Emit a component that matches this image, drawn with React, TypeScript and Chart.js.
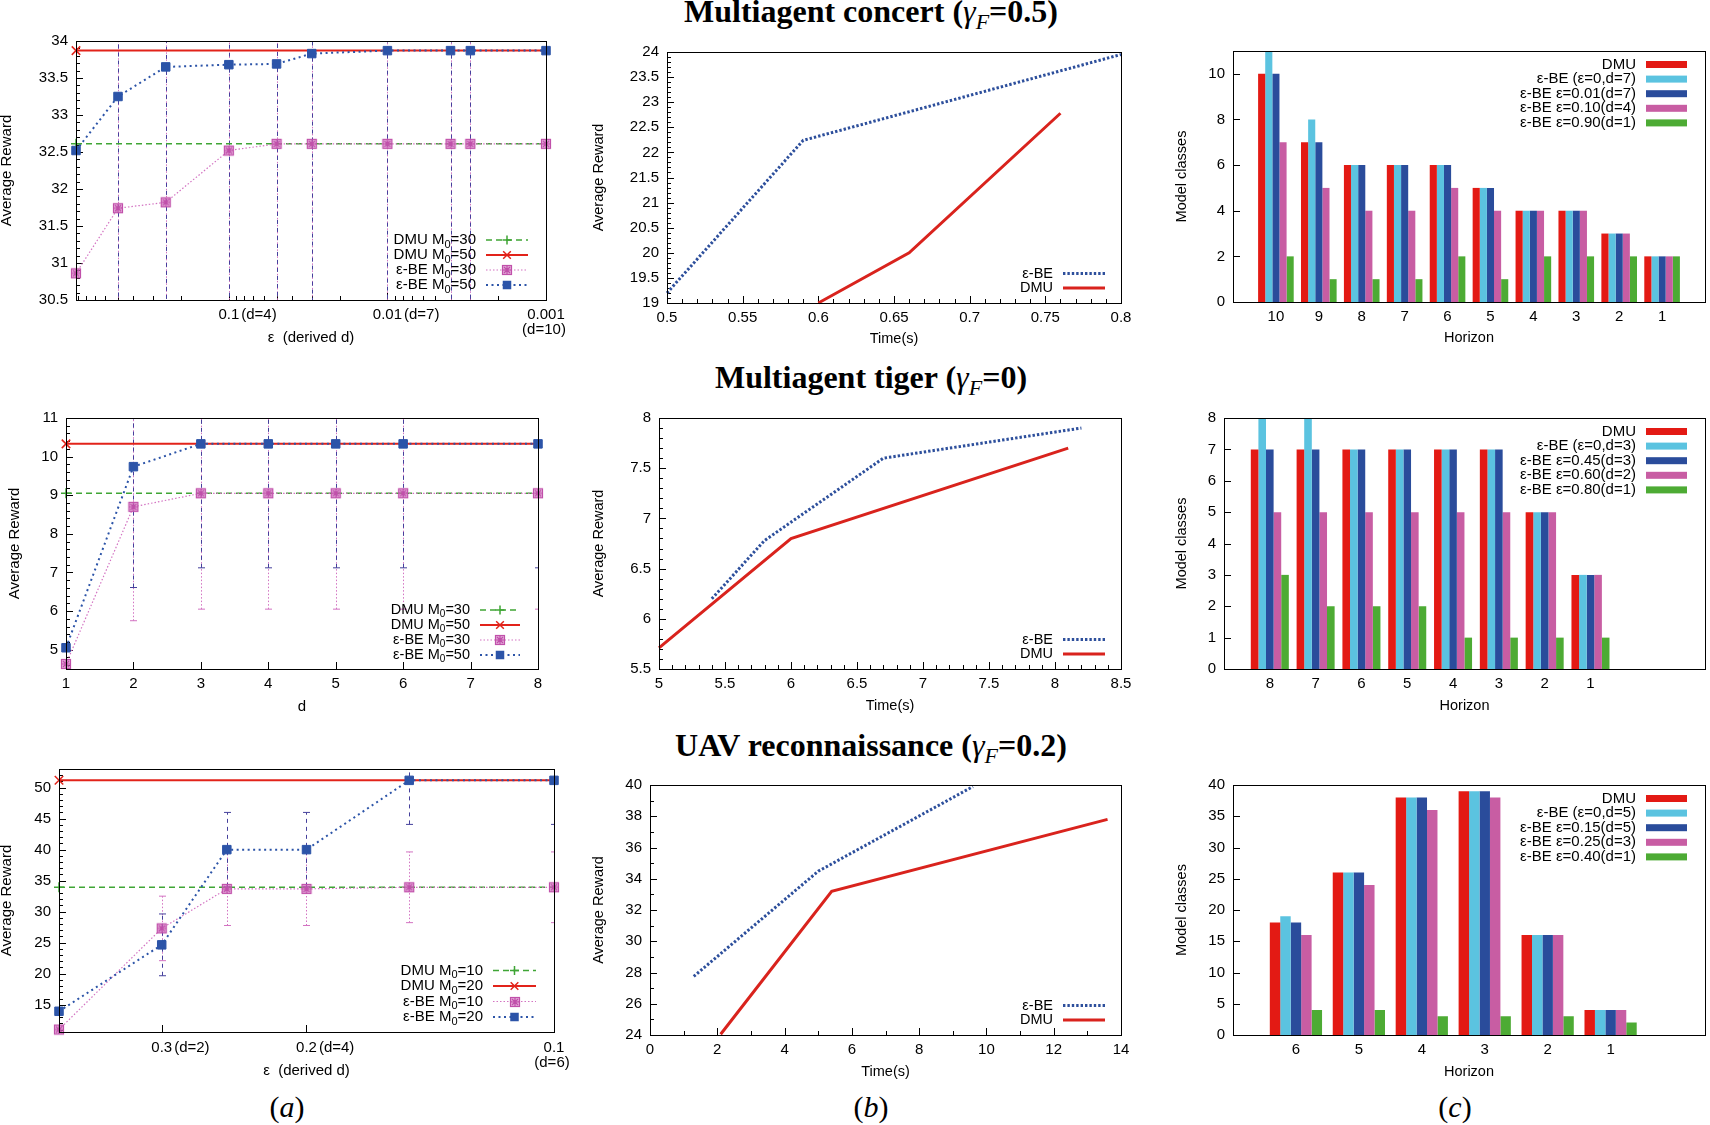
import React, { useEffect, useRef } from 'react';
import { Chart, registerables } from 'chart.js';

Chart.register(...registerables);

const FONT = '"Liberation Sans", Arial, Helvetica, sans-serif';
const SERIF = '"Liberation Serif", "Times New Roman", Times, serif';
Chart.defaults.font.family = FONT;
Chart.defaults.color = '#000';

// ================= Titles / captions =================
const rowTitles = ['Multiagent concert', 'Multiagent tiger', 'UAV reconnaissance'];
const rowGammaF = ['0.5', '0', '0.2'];
const columnCaptions = ['a', 'b', 'c'];

// ================= Row 1 : Multiagent concert =================
const epsA1 = [0.92, 0.5, 0.25, 0.1, 0.05, 0.03, 0.01, 0.004, 0.003, 0.001];
const beM30A1 = [30.86, 31.74, 31.82, 32.52, 32.61, 32.61, 32.61, 32.61, 32.61, 32.61];
const beM50A1 = [32.52, 33.25, 33.65, 33.68, 33.69, 33.83, 33.87, 33.87, 33.87, 33.87];
const beM30ErrA1 = [0, 4, 4, 4, 4, 4, 4, 4, 4, 4];
const beM50ErrA1 = [0, 4, 4, 4, 4, 4, 4, 4, 4, 4];
const dmuM30A1 = 32.61;
const dmuM50A1 = 33.87;
const yTicksA1 = [30.5, 31, 31.5, 32, 32.5, 33, 33.5, 34];
const xTicksA1 = [0.1, 0.01, 0.001];
const xTickDA1 = [4, 7, 10];
const legendA1 = ['DMU M_0=30', 'DMU M_0=50', 'ε-BE M_0=30', 'ε-BE M_0=50'];

const timeBeB1 = [0.5, 0.59, 0.8];
const rewBeB1 = [19.2, 22.24, 23.95];
const timeDmuB1 = [0.6, 0.66, 0.76];
const rewDmuB1 = [19.0, 20.0, 22.78];
const xTicksB1 = [0.5, 0.55, 0.6, 0.65, 0.7, 0.75, 0.8];
const yTicksB1 = [19, 19.5, 20, 20.5, 21, 21.5, 22, 22.5, 23, 23.5, 24];

const horizonsC1 = ['10', '9', '8', '7', '6', '5', '4', '3', '2', '1'];
const dmuC1 = [10, 7, 6, 6, 6, 5, 4, 4, 3, 2];
const be0C1 = [11, 8, 6, 6, 6, 5, 4, 4, 3, 2];
const be001C1 = [10, 7, 6, 6, 6, 5, 4, 4, 3, 2];
const be010C1 = [7, 5, 4, 4, 5, 4, 4, 4, 3, 2];
const be090C1 = [2, 1, 1, 1, 2, 1, 2, 2, 2, 2];
const legendC1 = ['DMU', 'ε-BE (ε=0,d=7)', 'ε-BE ε=0.01(d=7)', 'ε-BE ε=0.10(d=4)', 'ε-BE ε=0.90(d=1)'];
const yTicksC1 = [0, 2, 4, 6, 8, 10];

// ================= Row 2 : Multiagent tiger =================
const dA2 = [1, 2, 3, 4, 5, 6, 8];
const beM30A2 = [4.63, 8.7, 9.05, 9.05, 9.05, 9.05, 9.05];
const beM50A2 = [5.05, 9.74, 10.33, 10.33, 10.33, 10.33, 10.33];
const beM30ErrA2 = [0, 2.95, 3.0, 3.0, 3.0, 3.0, 3.0];
const beM50ErrA2 = [0, 3.13, 3.21, 3.21, 3.21, 3.21, 3.21];
const dmuM30A2 = 9.05;
const dmuM50A2 = 10.33;
const xTicksA2 = [1, 2, 3, 4, 5, 6, 7, 8];
const yTicksA2 = [5, 6, 7, 8, 9, 10, 11];
const legendA2 = ['DMU M_0=30', 'DMU M_0=50', 'ε-BE M_0=30', 'ε-BE M_0=50'];

const timeBeB2 = [5.4, 5.8, 6.7, 8.2];
const rewBeB2 = [6.2, 6.78, 7.6, 7.9];
const timeDmuB2 = [5.0, 6.0, 8.1];
const rewDmuB2 = [5.71, 6.8, 7.7];
const xTicksB2 = [5, 5.5, 6, 6.5, 7, 7.5, 8, 8.5];
const yTicksB2 = [5.5, 6, 6.5, 7, 7.5, 8];

const horizonsC2 = ['8', '7', '6', '5', '4', '3', '2', '1'];
const dmuC2 = [7, 7, 7, 7, 7, 7, 5, 3];
const be0C2 = [8, 8, 7, 7, 7, 7, 5, 3];
const be045C2 = [7, 7, 7, 7, 7, 7, 5, 3];
const be060C2 = [5, 5, 5, 5, 5, 5, 5, 3];
const be080C2 = [3, 2, 2, 2, 1, 1, 1, 1];
const legendC2 = ['DMU', 'ε-BE (ε=0,d=3)', 'ε-BE ε=0.45(d=3)', 'ε-BE ε=0.60(d=2)', 'ε-BE ε=0.80(d=1)'];
const yTicksC2 = [0, 1, 2, 3, 4, 5, 6, 7, 8];

// ================= Row 3 : UAV reconnaissance =================
const epsA3 = [0.4, 0.3, 0.25, 0.2, 0.15, 0.1];
const beM10A3 = [11.0, 27.3, 33.67, 33.67, 33.93, 33.93];
const beM20A3 = [13.94, 24.65, 40.0, 40.0, 51.17, 51.17];
const beM10ErrA3 = [0, 5.2, 5.9, 5.9, 5.7, 5.7];
const beM20ErrA3 = [0, 4.98, 6.0, 6.0, 7.1, 7.1];
const dmuM10A3 = 33.93;
const dmuM20A3 = 51.2;
const yTicksA3 = [15, 20, 25, 30, 35, 40, 45, 50];
const xTicksA3 = [0.3, 0.2, 0.1];
const xTickDA3 = [2, 4, 6];
const legendA3 = ['DMU M_0=10', 'DMU M_0=20', 'ε-BE M_0=10', 'ε-BE M_0=20'];

const timeBeB3 = [1.3, 5.0, 9.6];
const rewBeB3 = [27.75, 34.48, 39.9];
const timeDmuB3 = [2.1, 5.4, 13.6];
const rewDmuB3 = [24.05, 33.2, 37.8];
const xTicksB3 = [0, 2, 4, 6, 8, 10, 12, 14];
const yTicksB3 = [24, 26, 28, 30, 32, 34, 36, 38, 40];

const horizonsC3 = ['6', '5', '4', '3', '2', '1'];
const dmuC3 = [18, 26, 38, 39, 16, 4];
const be0C3 = [19, 26, 38, 39, 16, 4];
const be015C3 = [18, 26, 38, 39, 16, 4];
const be025C3 = [16, 24, 36, 38, 16, 4];
const be040C3 = [4, 4, 3, 3, 3, 2];
const legendC3 = ['DMU', 'ε-BE (ε=0,d=5)', 'ε-BE ε=0.15(d=5)', 'ε-BE ε=0.25(d=3)', 'ε-BE ε=0.40(d=1)'];
const yTicksC3 = [0, 5, 10, 15, 20, 25, 30, 35, 40];

// ================= Colours =================
const L_GREEN = '#3fa535';
const L_RED = '#e2231a';
const L_PINK = '#d373c2';
const L_BLUE = '#2c54a8';
const E_BLUE = '#45409c';
const B_BLUE = '#2d4f9c';
const B_RED = '#d9231d';
const BAR_COLORS = ['#e31a14', '#5bc3e0', '#2a4c9b', '#c85da3', '#4dab34'];

// ================= Geometry =================
type Geom = { cx: number; cy: number; cw: number; ch: number; pl: number; pt: number; pr: number; pb: number };
const GEOM: Record<string, Geom> = {
  A1: { cx: -2, cy: 24, cw: 572, ch: 323, pl: 76, pt: 38, pr: 546, pb: 300 },
  B1: { cx: 590, cy: 35, cw: 550, ch: 313, pl: 667, pt: 49, pr: 1121, pb: 303 },
  C1: { cx: 1173, cy: 34, cw: 537, ch: 313, pl: 1233, pt: 48, pr: 1705, pb: 302 },
  A2: { cx: 6, cy: 401, cw: 564, ch: 315, pl: 66, pt: 415, pr: 538, pb: 669 },
  B2: { cx: 590, cy: 401, cw: 550, ch: 314, pl: 659, pt: 415, pr: 1121, pb: 669 },
  C2: { cx: 1173, cy: 401, cw: 537, ch: 314, pl: 1224, pt: 415, pr: 1705, pb: 669 },
  A3: { cx: -2, cy: 752, cw: 577, ch: 328, pl: 59, pt: 766, pr: 554, pb: 1032 },
  B3: { cx: 590, cy: 768, cw: 550, ch: 313, pl: 650, pt: 782, pr: 1121, pb: 1035 },
  C3: { cx: 1173, cy: 768, cw: 537, ch: 313, pl: 1233, pt: 782, pr: 1705, pb: 1035 },
};

// ================= helpers =================
function linMinor(major: number[], n: number, min: number, max: number): number[] {
  const step = (major[1] - major[0]) / n;
  const out: number[] = [];
  const k0 = Math.ceil((min - major[0]) / step - 1e-6);
  const k1 = Math.floor((max - major[0]) / step + 1e-6);
  for (let k = k0; k <= k1; k++) {
    if (((k % n) + n) % n !== 0) out.push(major[0] + k * step);
  }
  return out;
}
function logMinor(min: number, max: number): number[] {
  const out: number[] = [];
  for (let e = Math.floor(Math.log10(min)); e <= Math.floor(Math.log10(max)); e++) {
    for (let k = 2; k <= 9; k++) {
      const v = k * Math.pow(10, e);
      if (v > min * 1.0001 && v < max * 0.9999) out.push(v);
    }
  }
  return out;
}

let starCache: HTMLCanvasElement | null = null;
function starSquare(): HTMLCanvasElement {
  if (starCache) return starCache;
  const c = document.createElement('canvas');
  c.width = 12; c.height = 12;
  const g = c.getContext('2d')!;
  g.fillStyle = 'rgba(210,110,190,0.6)';
  g.fillRect(1, 1, 10, 10);
  g.strokeStyle = '#c050aa';
  g.lineWidth = 1.2;
  g.strokeRect(1.5, 1.5, 9, 9);
  g.beginPath();
  g.moveTo(6, 2); g.lineTo(6, 10);
  g.moveTo(2, 6); g.lineTo(10, 6);
  g.moveTo(3, 3); g.lineTo(9, 9);
  g.moveTo(9, 3); g.lineTo(3, 9);
  g.stroke();
  starCache = c;
  return c;
}

function richParts(text: string) {
  const parts: { t: string; sub: boolean }[] = [];
  let buf = '';
  for (let i = 0; i < text.length; i++) {
    if (text[i] === '_' && i + 1 < text.length) {
      if (buf) parts.push({ t: buf, sub: false });
      buf = '';
      parts.push({ t: text[i + 1], sub: true });
      i++;
    } else buf += text[i];
  }
  if (buf) parts.push({ t: buf, sub: false });
  return parts;
}
function drawRich(ctx: CanvasRenderingContext2D, text: string, xRight: number, y: number, size: number) {
  const parts = richParts(text);
  const subSize = Math.round(size * 0.72);
  let total = 0;
  const ws = parts.map((p) => {
    ctx.font = `${p.sub ? subSize : size}px ${FONT}`;
    const w = ctx.measureText(p.t).width;
    total += w;
    return w;
  });
  let x = xRight - total;
  ctx.textAlign = 'left';
  ctx.textBaseline = 'middle';
  ctx.fillStyle = '#000';
  parts.forEach((p, i) => {
    ctx.font = `${p.sub ? subSize : size}px ${FONT}`;
    ctx.fillText(p.t, x, p.sub ? y + size * 0.3 : y);
    x += ws[i];
  });
}
function drawMarker(ctx: CanvasRenderingContext2D, m: any, x: number, y: number, color: string) {
  ctx.save();
  ctx.setLineDash([]);
  if (typeof m !== 'string') {
    ctx.drawImage(m, Math.round(x - m.width / 2), Math.round(y - m.height / 2));
    ctx.restore();
    return;
  }
  ctx.strokeStyle = color;
  ctx.fillStyle = color;
  ctx.lineWidth = 1.5;
  const r = 4.5;
  ctx.beginPath();
  if (m === 'rect') {
    ctx.fillRect(x - 4.25, y - 4.25, 8.5, 8.5);
  } else if (m === 'cross') {
    ctx.moveTo(x - r, y); ctx.lineTo(x + r, y);
    ctx.moveTo(x, y - r); ctx.lineTo(x, y + r);
    ctx.stroke();
  } else if (m === 'crossRot') {
    const d = r * 0.85;
    ctx.moveTo(x - d, y - d); ctx.lineTo(x + d, y + d);
    ctx.moveTo(x + d, y - d); ctx.lineTo(x - d, y + d);
    ctx.stroke();
  }
  ctx.restore();
}

const gpPlugin = {
  id: 'gp',
  beforeDatasetsDraw(chart: any, _a: any, o: any) {
    const { ctx, chartArea: a, scales } = chart;
    const xs = scales.x;
    const ys = scales.y;
    ctx.save();
    ctx.strokeStyle = '#000';
    ctx.lineWidth = 1;
    ctx.setLineDash([]);
    const tx = (v: number, len: number) => {
      const p = Math.round(xs.getPixelForValue(v)) + 0.5;
      ctx.beginPath(); ctx.moveTo(p, a.bottom); ctx.lineTo(p, a.bottom - len); ctx.stroke();
    };
    const ty = (v: number, len: number) => {
      const p = Math.round(ys.getPixelForValue(v)) + 0.5;
      ctx.beginPath(); ctx.moveTo(a.left, p); ctx.lineTo(a.left + len, p); ctx.stroke();
    };
    if (o.xTicks !== false) xs.ticks.forEach((t: any) => tx(t.value, 7));
    (o.xMinor || []).forEach((v: number) => tx(v, 4));
    ys.ticks.forEach((t: any) => ty(t.value, 7));
    (o.yMinor || []).forEach((v: number) => ty(v, 4));
    ctx.restore();

    ctx.save();
    ctx.beginPath();
    ctx.rect(a.left, a.top, a.right - a.left, a.bottom - a.top);
    ctx.clip();
    chart.data.datasets.forEach((ds: any, i: number) => {
      if (!ds.errors) return;
      const meta = chart.getDatasetMeta(i);
      ds.errors.forEach((e: number, j: number) => {
        if (!e || !meta.data[j]) return;
        const v = ds.data[j].y;
        const x = Math.round(meta.data[j].x) + 0.5;
        const y1 = ys.getPixelForValue(v - e);
        const y2 = ys.getPixelForValue(v + e);
        ctx.strokeStyle = ds.errColor;
        ctx.lineWidth = 1;
        ctx.setLineDash(ds.errDash || []);
        ctx.beginPath(); ctx.moveTo(x, y1); ctx.lineTo(x, y2); ctx.stroke();
        ctx.setLineDash([]);
        ctx.beginPath();
        ctx.moveTo(x - 3.5, y1); ctx.lineTo(x + 3.5, y1);
        ctx.moveTo(x - 3.5, y2); ctx.lineTo(x + 3.5, y2);
        ctx.stroke();
      });
    });
    ctx.restore();
  },
  afterDatasetsDraw(chart: any, _a: any, o: any) {
    const { ctx, chartArea: a, scales } = chart;
    const xs = scales.x;
    ctx.save();
    ctx.strokeStyle = '#000';
    ctx.lineWidth = 1;
    ctx.setLineDash([]);
    ctx.strokeRect(Math.round(a.left) + 0.5, Math.round(a.top) + 0.5, Math.round(a.right - a.left), Math.round(a.bottom - a.top));

    if (o.xLabels) {
      const size = o.xLabelSize;
      ctx.fillStyle = '#000';
      ctx.font = `${size}px ${FONT}`;
      ctx.textBaseline = 'middle';
      o.xLabels.forEach((l: any) => {
        const px = xs.getPixelForValue(l.v);
        const y = a.bottom + o.xLabelDy;
        const edge = Math.abs(px - a.right) < 1.5 || Math.abs(px - a.left) < 1.5;
        ctx.textAlign = 'center';
        ctx.fillText(l.main, px, y);
        if (edge) {
          ctx.fillText(l.sub, px - 2, y + size);
        } else {
          const w = ctx.measureText(l.main).width;
          ctx.textAlign = 'left';
          ctx.fillText(l.sub, px + w / 2 + 2, y);
        }
      });
    }

    const L = o.legend;
    if (L) {
      const items = chart.data.datasets;
      const n = items.length;
      items.forEach((ds: any, k: number) => {
        const y = L.anchor === 'top' ? a.top + L.off + k * L.gap : a.bottom - L.off - (n - 1 - k) * L.gap;
        drawRich(ctx, ds.label, a.right - L.textR, y, L.size);
        const x0 = a.right - L.sL;
        const x1 = a.right - L.sR;
        if (L.kind === 'bar') {
          ctx.fillStyle = ds.backgroundColor;
          ctx.fillRect(x0, y - 3.5, x1 - x0, 7);
        } else {
          ctx.strokeStyle = ds.borderColor;
          ctx.lineWidth = ds.borderWidth;
          ctx.setLineDash(ds.borderDash || []);
          ctx.beginPath(); ctx.moveTo(x0, y); ctx.lineTo(x1, y); ctx.stroke();
          ctx.setLineDash([]);
          if (ds.legendMarker) drawMarker(ctx, ds.legendMarker, (x0 + x1) / 2, y, ds.borderColor);
        }
      });
    }
    ctx.restore();
  },
};

type AxisO = {
  type?: string; min: number; max: number; reverse?: boolean; ticks: number[];
  fmt?: (v: number) => string; hideLabels?: boolean; title: string; fs: number; tfs: number;
};
function axisOpts(g: Geom, axis: 'x' | 'y', o: AxisO) {
  return {
    type: o.type || 'linear',
    position: axis === 'x' ? 'bottom' : 'left',
    min: o.min,
    max: o.max,
    reverse: !!o.reverse,
    bounds: 'data',
    offset: false,
    afterBuildTicks: (s: any) => { s.ticks = o.ticks.map((v) => ({ value: v })); },
    afterFit: (s: any) => {
      if (axis === 'x') s.height = g.cy + g.ch - g.pb;
      else s.width = g.pl - g.cx;
    },
    grid: { display: false, drawTicks: false, drawOnChartArea: false },
    border: { display: false },
    ticks: {
      display: !o.hideLabels,
      autoSkip: false,
      maxRotation: 0,
      minRotation: 0,
      padding: axis === 'x' ? 6 : 8,
      color: '#000',
      font: { size: o.fs },
      callback: (v: number) => (o.fmt ? o.fmt(v) : String(v)),
    },
    title: { display: true, text: o.title, color: '#000', font: { size: o.tfs }, padding: 0 },
  };
}
function baseOpts(g: Geom, scales: any, gp: any) {
  return {
    responsive: false,
    maintainAspectRatio: false,
    animation: false,
    devicePixelRatio: 1,
    events: [],
    layout: { padding: { left: 0, top: g.pt - g.cy, right: g.cx + g.cw - g.pr, bottom: 0 } },
    plugins: { legend: { display: false }, tooltip: { enabled: false }, title: { display: false }, gp },
    scales,
  };
}

function dmuDS(label: string, xs: number[], val: number, color: string, dash: number[], width: number, marker: string, order: number) {
  return {
    label,
    data: [{ x: xs[0], y: val }, { x: xs[xs.length - 1], y: val }],
    borderColor: color,
    backgroundColor: color,
    borderWidth: width,
    borderDash: dash,
    pointStyle: marker,
    pointRadius: [marker === 'crossRot' ? 6 : 5, 0],
    pointBorderColor: color,
    pointBackgroundColor: color,
    pointBorderWidth: 1.5,
    order,
    clip: false,
    legendMarker: marker,
  };
}
function beDS(label: string, xs: number[], ys: number[], errs: number[], kind: 'pink' | 'blue') {
  const data = xs.map((x, i) => ({ x, y: ys[i] }));
  if (kind === 'pink') {
    const star = starSquare();
    return {
      label, data, borderColor: L_PINK, backgroundColor: L_PINK, borderWidth: 1.2, borderDash: [1.5, 2],
      pointStyle: star, pointRadius: 4, order: 1, clip: false,
      errors: errs, errColor: L_PINK, errDash: [1.5, 2], legendMarker: star,
    };
  }
  return {
    label, data, borderColor: L_BLUE, backgroundColor: L_BLUE, borderWidth: 2, borderDash: [2, 3.5],
    pointStyle: 'rect', pointRadius: 6, pointBackgroundColor: L_BLUE, pointBorderColor: L_BLUE, pointBorderWidth: 1,
    order: 0, clip: false, errors: errs, errColor: E_BLUE, errDash: [4, 4], legendMarker: 'rect',
  };
}
function timeDS(label: string, xs: number[], ys: number[], color: string, dash: number[]) {
  return {
    label, data: xs.map((x, i) => ({ x, y: ys[i] })), borderColor: color, backgroundColor: color,
    borderWidth: 3, borderDash: dash, pointRadius: 0, clip: false, tension: 0,
  };
}
function barDS(label: string, vals: number[], color: string) {
  return {
    label, data: vals.map((y, i) => ({ x: i + 1, y })), backgroundColor: color, borderWidth: 0,
    categoryPercentage: 0.83, barPercentage: 1,
  };
}

const LEG_A = { anchor: 'bottom', off: 15, gap: 15, textR: 70, sL: 60, sR: 18, size: 15, kind: 'line' };
const LEG_B = { anchor: 'bottom', off: 15, gap: 14.5, textR: 68, sL: 58, sR: 16, size: 14.5, kind: 'line' };
const LEG_C = { anchor: 'top', off: 13.5, gap: 14.6, textR: 69, sL: 59, sR: 18, size: 15, kind: 'bar' };

// ---------------- column (a) ----------------
function makeA(
  g: Geom, xs: number[], m30: number[], m50: number[], e30: number[], e50: number[], d30: number, d50: number,
  labels: string[], xAxis: any, yAxis: any, gpExtra: any,
) {
  return {
    type: 'line',
    data: {
      datasets: [
        dmuDS(labels[0], xs, d30, L_GREEN, [6, 4], 1.5, 'cross', 3),
        dmuDS(labels[1], xs, d50, L_RED, [], 2, 'crossRot', 2),
        beDS(labels[2], xs, m30, e30, 'pink'),
        beDS(labels[3], xs, m50, e50, 'blue'),
      ],
    },
    options: baseOpts(g, { x: axisOpts(g, 'x', xAxis), y: axisOpts(g, 'y', yAxis) }, gpExtra),
    plugins: [gpPlugin],
  };
}

const makeA1 = () => {
  const g = GEOM.A1;
  return makeA(g, epsA1, beM30A1, beM50A1, beM30ErrA1, beM50ErrA1, dmuM30A1, dmuM50A1, legendA1,
    { type: 'logarithmic', min: 0.001, max: 0.92, reverse: true, ticks: xTicksA1, hideLabels: true, title: 'ε  (derived d)', fs: 15, tfs: 15 },
    { min: 30.5, max: 34, ticks: yTicksA1, title: 'Average Reward', fs: 15, tfs: 15 },
    {
      xMinor: logMinor(0.001, 0.92), yMinor: linMinor(yTicksA1, 5, 30.5, 34),
      xLabels: xTicksA1.map((v, i) => ({ v, main: String(v), sub: `(d=${xTickDA1[i]})` })),
      xLabelSize: 15, xLabelDy: 15, legend: LEG_A,
    });
};
const makeA2 = () => {
  const g = GEOM.A2;
  return makeA(g, dA2, beM30A2, beM50A2, beM30ErrA2, beM50ErrA2, dmuM30A2, dmuM50A2, legendA2,
    { min: 1, max: 8, ticks: xTicksA2, title: 'd', fs: 15, tfs: 15 },
    { min: 4.5, max: 11, ticks: yTicksA2, title: 'Average Reward', fs: 15, tfs: 15 },
    { yMinor: linMinor(yTicksA2, 5, 4.5, 11), legend: { ...LEG_A, off: 14, textR: 68, sL: 58, size: 14.5 } });
};
const makeA3 = () => {
  const g = GEOM.A3;
  return makeA(g, epsA3, beM10A3, beM20A3, beM10ErrA3, beM20ErrA3, dmuM10A3, dmuM20A3, legendA3,
    { type: 'logarithmic', min: 0.1, max: 0.4, reverse: true, ticks: xTicksA3, hideLabels: true, title: 'ε  (derived d)', fs: 15, tfs: 15 },
    { min: 10.6, max: 53, ticks: yTicksA3, title: 'Average Reward', fs: 15, tfs: 15 },
    {
      yMinor: linMinor(yTicksA3, 5, 10.6, 53),
      xLabels: xTicksA3.map((v, i) => ({ v, main: String(v), sub: `(d=${xTickDA3[i]})` })),
      xLabelSize: 15, xLabelDy: 16, legend: { ...LEG_A, gap: 15.5, textR: 71, sL: 61 },
    });
};

// ---------------- column (b) ----------------
function makeB(g: Geom, tb: number[], rb: number[], td: number[], rd: number[], xt: number[], yt: number[], xr: number[], yr: number[], xm: number, ym: number) {
  return {
    type: 'line',
    data: {
      datasets: [
        timeDS('ε-BE', tb, rb, B_BLUE, [2.4, 2]),
        timeDS('DMU', td, rd, B_RED, []),
      ],
    },
    options: baseOpts(g, {
      x: axisOpts(g, 'x', { min: xr[0], max: xr[1], ticks: xt, title: 'Time(s)', fs: 15, tfs: 14.5 }),
      y: axisOpts(g, 'y', { min: yr[0], max: yr[1], ticks: yt, title: 'Average Reward', fs: 15, tfs: 14.5 }),
    }, {
      xMinor: linMinor(xt, xm, xr[0], xr[1]),
      yMinor: linMinor(yt, ym, yr[0], yr[1]),
      legend: LEG_B,
    }),
    plugins: [gpPlugin],
  };
}
const makeB1 = () => makeB(GEOM.B1, timeBeB1, rewBeB1, timeDmuB1, rewDmuB1, xTicksB1, yTicksB1, [0.5, 0.8], [19, 24], 5, 5);
const makeB2 = () => makeB(GEOM.B2, timeBeB2, rewBeB2, timeDmuB2, rewDmuB2, xTicksB2, yTicksB2, [5, 8.5], [5.5, 8], 5, 5);
const makeB3 = () => makeB(GEOM.B3, timeBeB3, rewBeB3, timeDmuB3, rewDmuB3, xTicksB3, yTicksB3, [0, 14], [24, 40], 2, 2);

// ---------------- column (c) ----------------
function makeC(g: Geom, horizons: string[], series: number[][], labels: string[], xMax: number, yt: number[], yMax: number) {
  return {
    type: 'bar',
    data: { datasets: series.map((s, k) => barDS(labels[k], s, BAR_COLORS[k])) },
    options: {
      ...baseOpts(g, {
        x: axisOpts(g, 'x', {
          min: 0, max: xMax, ticks: horizons.map((_, i) => i + 1),
          fmt: (v: number) => horizons[Math.round(v) - 1] || '', title: 'Horizon', fs: 15, tfs: 14.5,
        }),
        y: axisOpts(g, 'y', { min: 0, max: yMax, ticks: yt, title: 'Model classes', fs: 15, tfs: 14.5 }),
      }, { xTicks: false, legend: LEG_C }),
      indexAxis: 'x',
    },
    plugins: [gpPlugin],
  };
}
const makeC1 = () => makeC(GEOM.C1, horizonsC1, [dmuC1, be0C1, be001C1, be010C1, be090C1], legendC1, 11, yTicksC1, 11);
const makeC2 = () => makeC(GEOM.C2, horizonsC2, [dmuC2, be0C2, be045C2, be060C2, be080C2], legendC2, 10.5, yTicksC2, 8);
const makeC3 = () => makeC(GEOM.C3, horizonsC3, [dmuC3, be0C3, be015C3, be025C3, be040C3], legendC3, 7.5, yTicksC3, 40);

const PANELS = [
  { id: 'A1', make: makeA1 }, { id: 'B1', make: makeB1 }, { id: 'C1', make: makeC1 },
  { id: 'A2', make: makeA2 }, { id: 'B2', make: makeB2 }, { id: 'C2', make: makeC2 },
  { id: 'A3', make: makeA3 }, { id: 'B3', make: makeB3 }, { id: 'C3', make: makeC3 },
];

function ChartBox({ g, make }: { g: Geom; make: () => any }) {
  const ref = useRef<HTMLCanvasElement | null>(null);
  useEffect(() => {
    if (!ref.current) return;
    const chart = new Chart(ref.current, make());
    return () => chart.destroy();
  }, []);
  return (
    <div style={{ position: 'absolute', left: g.cx, top: g.cy, width: g.cw, height: g.ch }}>
      <canvas ref={ref} width={g.cw} height={g.ch} style={{ display: 'block', width: g.cw, height: g.ch }} />
    </div>
  );
}

const TITLE_TOPS = [-5, 361, 729];
const CAPTION_X = [287, 871, 1455];

export default function App() {
  return (
    <div style={{ position: 'absolute', left: 0, top: 0, width: 1710, height: 1125, overflow: 'hidden', background: '#fff' }}>
      {rowTitles.map((t, i) => (
        <div
          key={t}
          style={{
            position: 'absolute', left: 571, width: 600, top: TITLE_TOPS[i], textAlign: 'center',
            fontFamily: SERIF, fontWeight: 700, fontSize: 32, lineHeight: '32px', whiteSpace: 'nowrap', color: '#000',
          }}
        >
          {t} (<span style={{ fontWeight: 400, fontStyle: 'italic' }}>γ</span>
          <span style={{ fontWeight: 400, fontStyle: 'italic', fontSize: 22, position: 'relative', top: 7 }}>F</span>
          ={rowGammaF[i]})
        </div>
      ))}
      {PANELS.map((p) => (
        <ChartBox key={p.id} g={GEOM[p.id]} make={p.make} />
      ))}
      {columnCaptions.map((c, i) => (
        <div
          key={c}
          style={{
            position: 'absolute', left: CAPTION_X[i] - 50, width: 100, top: 1092, textAlign: 'center',
            fontFamily: SERIF, fontSize: 30, lineHeight: '30px', color: '#000',
          }}
        >
          (<i>{c}</i>)
        </div>
      ))}
    </div>
  );
}
